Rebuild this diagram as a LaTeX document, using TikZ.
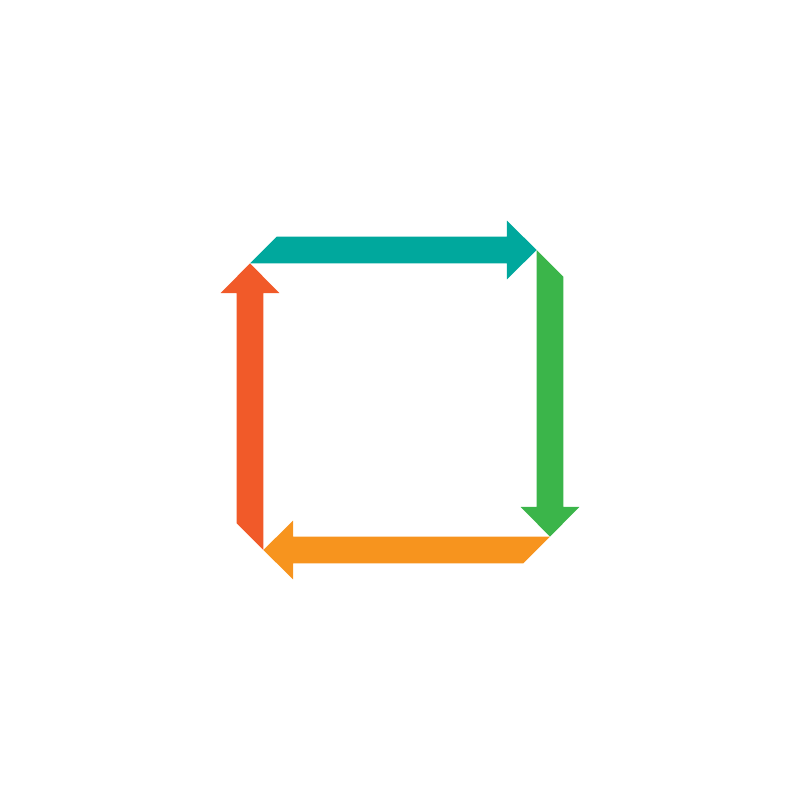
\documentclass[tikz,border=0pt]{standalone}
\definecolor{cteal}{RGB}{0,168,157}
\definecolor{cgreen}{RGB}{59,181,74}
\definecolor{corange}{RGB}{247,148,30}
\definecolor{cred}{RGB}{241,90,41}
\tikzset{arrowshape/.style={fill=#1, draw=none}}
\begin{document}
\begin{tikzpicture}[x=0.01cm,y=0.01cm]
\useasboundingbox (-400,-400) rectangle (400,400);
\def\R{150}\def\w{13.33}\def\L{29.7}\def\h{29.3}
\foreach \ang/\col in {0/cteal,-90/cgreen,-180/corange,-270/cred}{
  \fill[arrowshape=\col, rotate=\ang]
    (-\R,\R-\w) -- (-\R+2*\w,\R+\w) -- (\R-\w-\L,\R+\w) -- (\R-\w-\L,\R+\h)
    -- (\R-\w,\R) -- (\R-\w-\L,\R-\h) -- (\R-\w-\L,\R-\w) -- cycle;
}
\end{tikzpicture}
\end{document}
